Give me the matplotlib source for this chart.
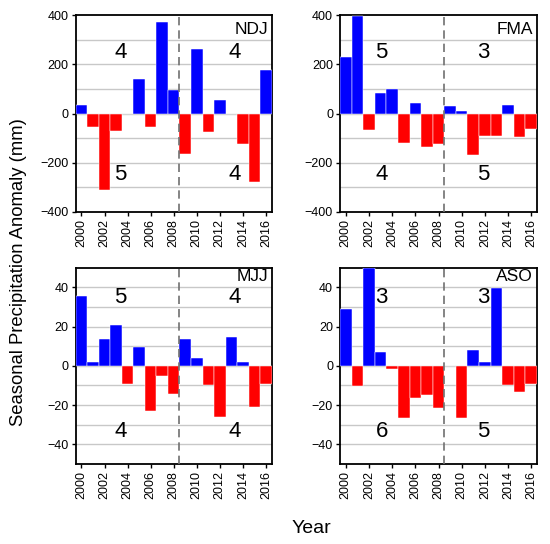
import matplotlib
matplotlib.use('Agg')
import matplotlib.pyplot as plt
import numpy as np

plt.rcParams['font.family'] = ['Liberation Sans', 'DejaVu Sans']

years = np.arange(2000, 2017)

# seasonal anomalies (mm)
ndj = [34, -54, -312, -72, 0, 140, -54, 372, 98, -165, 264, -76, 56, 0, -125, -279, 179]
fma = [230, 397, -68, 84, 102, -121, 43, -134, -123, 33, 10, -170, -89, -89, 37, -95, -62]
mjj = [35.7, 2.2, 13.9, 21, -9, 9.7, -22.9, -5.3, -14.3, 13.6, 3.9, -9.8, -26, 14.6, 2.2, -20.9, -9]
aso = [28.9, -10.4, 49.6, 6.8, -1.7, -26.5, -16.3, -15.1, -21.4, 0, -26.5, 8.1, 2, 39.6, -10, -13.4, -9.5]

seasons = ['NDJ', 'FMA', 'MJJ', 'ASO']
values = [ndj, fma, mjj, aso]
# counts of positive / negative years before and after 2008
counts = [('4', '5', '4', '4'), ('5', '4', '3', '5'), ('5', '4', '4', '4'), ('3', '6', '3', '5')]

fig = plt.figure(figsize=(5.5, 5.44), dpi=100)

rects = [[0.1376, 0.6103, 0.3564, 0.3616],
         [0.6182, 0.6103, 0.3582, 0.3616],
         [0.1376, 0.1471, 0.3564, 0.3608],
         [0.6182, 0.1471, 0.3582, 0.3608]]
count_x = [(2003.4, 2013.3), (2003.1, 2011.9), (2003.4, 2013.3), (2003.1, 2011.9)]
label_y = [0.93, 0.93, 0.955, 0.953]

for i in range(4):
    ax = fig.add_axes(rects[i])
    v = np.array(values[i])
    cols = ['#0000ff' if x >= 0 else '#ff0000' for x in v]
    ax.bar(years, v, width=1.0, color=cols, edgecolor='white', linewidth=0.35, zorder=3)

    if i < 2:
        lim, step, maj = 400, 100, 200
    else:
        lim, step, maj = 50, 10, 20
    ax.set_ylim(-lim, lim)
    ax.set_xlim(1999.5, 2016.5)
    for g in np.arange(-lim + step if i < 2 else -40, lim, step):
        ax.axhline(g, color='#c8c8c8', lw=1.0, zorder=1)
    ax.set_yticks(np.arange(-(lim // maj) * maj, lim + 1, maj))
    ax.set_xticks(years[::2])
    ax.set_xticklabels([str(y) for y in years[::2]], rotation=90)
    ax.tick_params(labelsize=9, length=3, width=1, pad=2)
    for s in ax.spines.values():
        s.set_linewidth(1.3)

    ax.axvline(2008.5, color='#707070', ls=(0, (5, 3)), lw=1.2, zorder=4)

    hi = lim * 0.62 if i < 2 else 35
    lo = -lim * 0.62 if i < 2 else -33.6
    c = counts[i]
    ax.text(count_x[i][0], hi, c[0], fontsize=16, ha='center', va='center', zorder=5)
    ax.text(count_x[i][0], lo, c[1], fontsize=16, ha='center', va='center', zorder=5)
    ax.text(count_x[i][1], hi, c[2], fontsize=16, ha='center', va='center', zorder=5)
    ax.text(count_x[i][1], lo, c[3], fontsize=16, ha='center', va='center', zorder=5)
    ax.text(0.98, label_y[i], seasons[i], transform=ax.transAxes, fontsize=12.5,
            ha='right', va='center', zorder=5)

fig.text(0.033, 0.5, 'Seasonal Precipitation Anomaly (mm)', rotation=90,
         ha='center', va='center', fontsize=13.3)
fig.text(0.567, 0.028, 'Year', ha='center', va='center', fontsize=14)

fig.savefig('out.png', dpi=100)
